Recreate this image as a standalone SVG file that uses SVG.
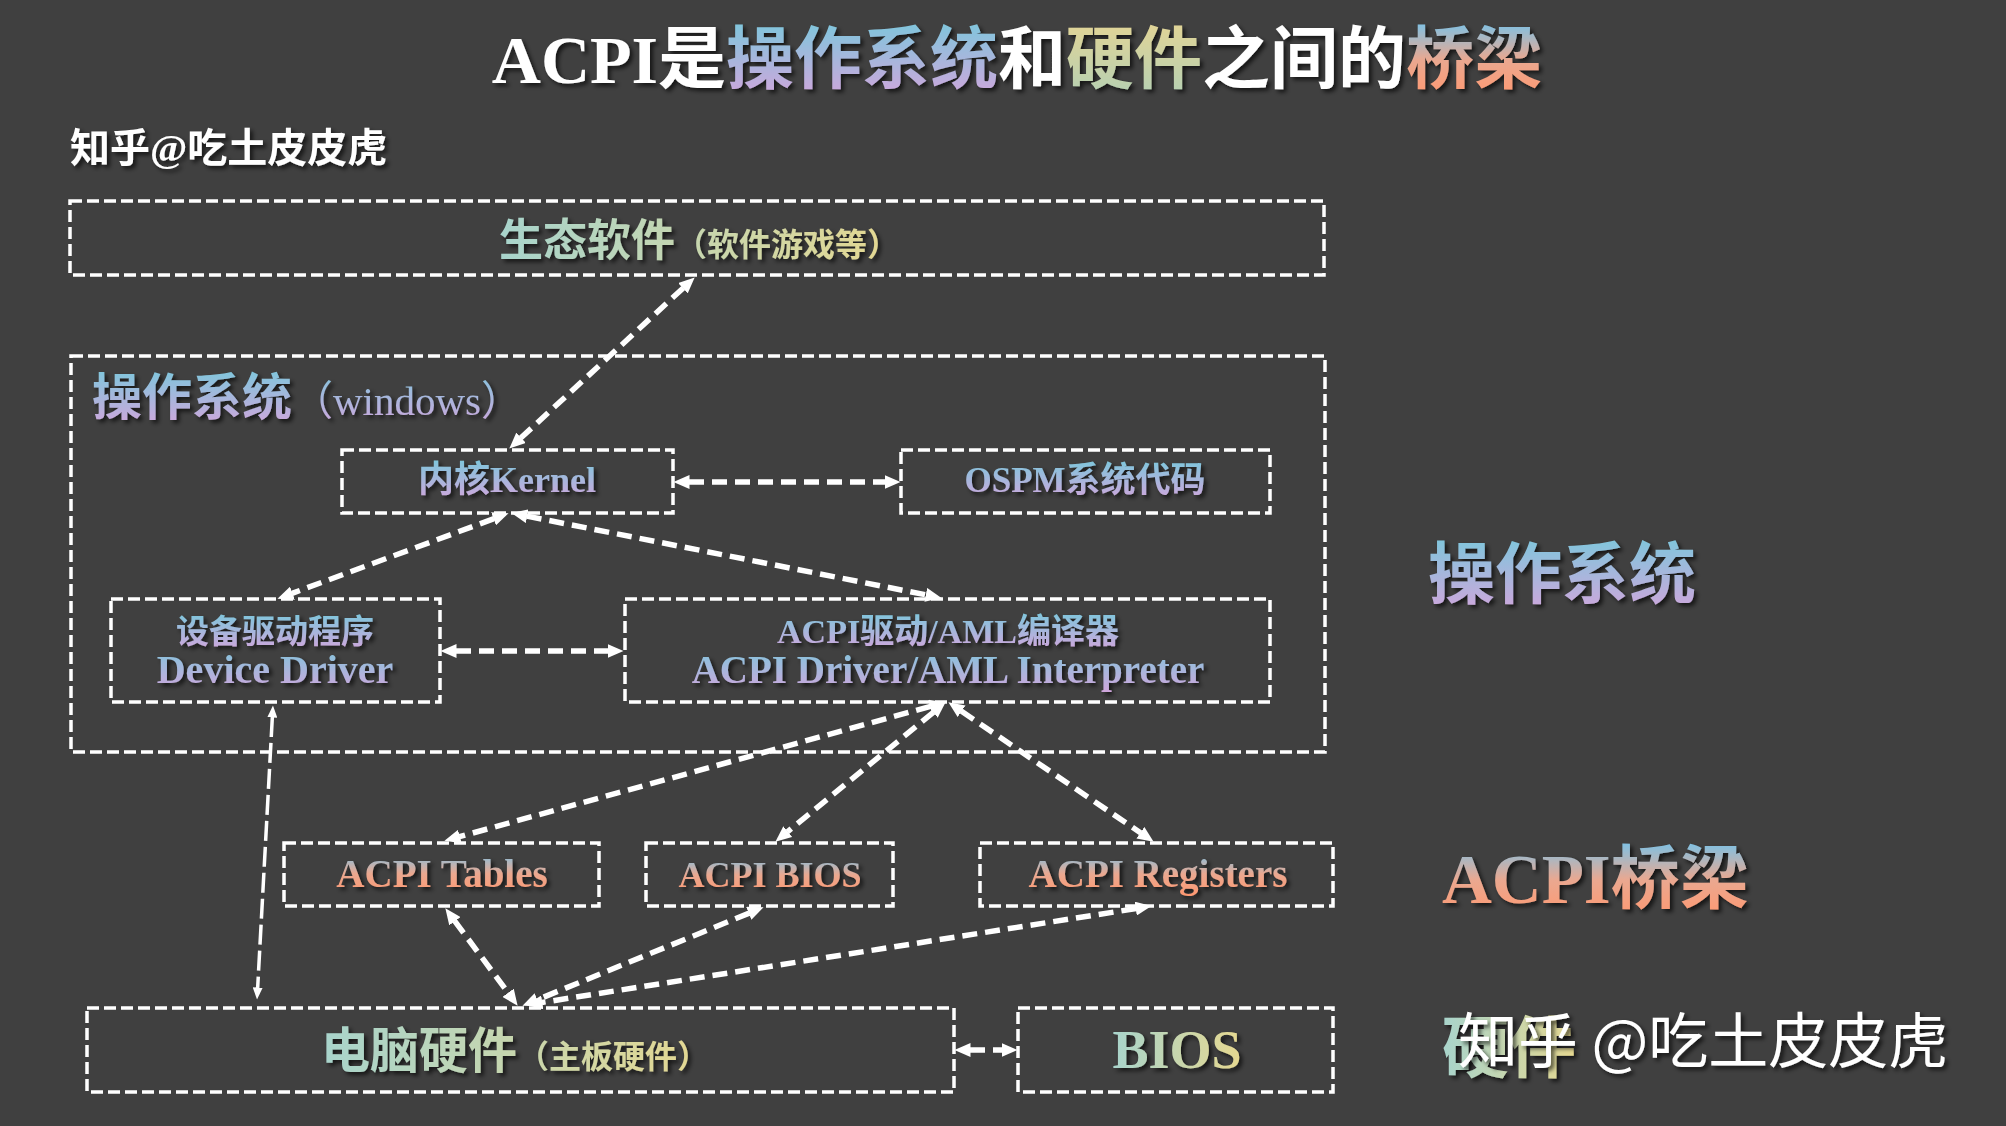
<svg xmlns="http://www.w3.org/2000/svg" width="2006" height="1126" viewBox="0 0 2006 1126">
<defs>
<style>
.t{font-family:"Liberation Serif","Noto Sans CJK SC",serif;font-weight:bold;filter:url(#sh)}
.box{fill:none;stroke:#fff;stroke-width:3.5;stroke-dasharray:12 5}
.con{fill:none;stroke:#fff;stroke-width:5.5;stroke-dasharray:15 8;marker-start:url(#ah);marker-end:url(#ah)}
.con2{fill:none;stroke:#fff;stroke-width:3.5;stroke-dasharray:20 6;marker-start:url(#ah2);marker-end:url(#ah2)}
</style>
<filter id="sh" x="-10%" y="-20%" width="120%" height="150%">
<feDropShadow dx="3" dy="3" stdDeviation="2" flood-color="#000" flood-opacity="0.65"/>
</filter>
<marker id="ah" viewBox="0 0 16 14" refX="0.5" refY="7" markerWidth="16" markerHeight="14" markerUnits="userSpaceOnUse" orient="auto-start-reverse">
<path d="M0,0 L16,7 L0,14 z" fill="#fff"/>
</marker>
<marker id="ah2" viewBox="0 0 12 10" refX="0.5" refY="5" markerWidth="12" markerHeight="10" markerUnits="userSpaceOnUse" orient="auto-start-reverse">
<path d="M0,0 L12,5 L0,10 z" fill="#fff"/>
</marker>
<linearGradient id="gOS" x1="0" y1="0" x2="0" y2="1">
<stop offset="0" stop-color="#7fc6dc"/><stop offset="1" stop-color="#d0a6dc"/>
</linearGradient>
<linearGradient id="gACPI" x1="0" y1="0" x2="0" y2="1">
<stop offset="0" stop-color="#7cc2e6"/><stop offset="0.5" stop-color="#eaa890"/><stop offset="1" stop-color="#ff9870"/>
</linearGradient>
<linearGradient id="gHW" x1="0" y1="0" x2="1" y2="0">
<stop offset="0" stop-color="#a8d4cc"/><stop offset="1" stop-color="#e6d890"/>
</linearGradient>
<linearGradient id="gHWv" x1="0" y1="0" x2="0" y2="1">
<stop offset="0" stop-color="#e2d496"/><stop offset="1" stop-color="#b4d0b4"/>
</linearGradient>
</defs>
<rect width="2006" height="1126" fill="#404040"/>

<g id="title">
<text class="t" x="1017" y="83" font-size="68" text-anchor="middle" fill="#fff">ACPI是<tspan fill="url(#gOS)">操作系统</tspan>和<tspan fill="url(#gHWv)">硬件</tspan>之间的<tspan fill="url(#gACPI)">桥梁</tspan></text>
</g>
<g id="author">
<text class="t" x="70" y="162" font-size="40" fill="#fff">知乎@吃土皮皮虎</text>
</g>

<g id="connectors">
<line class="con" x1="683.3" y1="287.9" x2="520.7" y2="438.1"/>
<line class="con" x1="689" y1="482" x2="885" y2="482"/>
<line class="con" x1="494" y1="518.6" x2="292" y2="593.4"/>
<line class="con" x1="526.7" y1="516.1" x2="926.3" y2="594.9"/>
<line class="con" x1="456" y1="651" x2="608" y2="651"/>
<line class="con" x1="930.6" y1="706.3" x2="459.4" y2="836.7"/>
<line class="con" x1="933.6" y1="712.1" x2="787.4" y2="831.9"/>
<line class="con" x1="961.2" y1="711" x2="1140.8" y2="833"/>
<line class="con2" x1="272.35" y1="717" x2="257.65" y2="988"/>
<line class="con" x1="454.6" y1="920.8" x2="508.4" y2="993.2"/>
<line class="con" x1="749.2" y1="913.1" x2="536.8" y2="999.9"/>
<line class="con" x1="1136.2" y1="908.5" x2="541.8" y2="1002.5"/>
<line class="con" x1="970" y1="1050" x2="1002" y2="1050"/>
</g>

<g id="eco">
<rect class="box" x="70" y="201" width="1254" height="74"/>
<text class="t" x="499" y="256" font-size="44" fill="url(#gHW)">生态软件<tspan font-size="32">（软件游戏等）</tspan></text>
</g>
<g id="os">
<rect class="box" x="71" y="356" width="1254" height="396"/>
<text class="t" x="92" y="415" font-size="50" fill="url(#gOS)">操作系统<tspan font-size="41" font-weight="normal">（windows）</tspan></text>
</g>
<g id="kernel">
<rect class="box" x="342" y="450" width="331" height="63"/>
<text class="t" x="507" y="492" font-size="36" text-anchor="middle" fill="url(#gOS)">内核Kernel</text>
</g>
<g id="ospm">
<rect class="box" x="901" y="450" width="369" height="63"/>
<text class="t" x="1085" y="492" font-size="35" text-anchor="middle" fill="url(#gOS)">OSPM系统代码</text>
</g>
<g id="devdrv">
<rect class="box" x="111" y="599" width="329" height="103"/>
<text class="t" x="275" y="643" font-size="33" text-anchor="middle" fill="url(#gOS)">设备驱动程序</text>
<text class="t" x="275" y="683" font-size="40" text-anchor="middle" fill="url(#gOS)">Device Driver</text>
</g>
<g id="acpidrv">
<rect class="box" x="625" y="599" width="645" height="103"/>
<text class="t" x="948" y="643" font-size="34" text-anchor="middle" fill="url(#gOS)">ACPI驱动/AML编译器</text>
<text class="t" x="948" y="683" font-size="39" text-anchor="middle" fill="url(#gOS)">ACPI Driver/AML Interpreter</text>
</g>
<g id="tables">
<rect class="box" x="284" y="843" width="315" height="63"/>
<text class="t" x="442" y="887" font-size="39" text-anchor="middle" fill="url(#gACPI)">ACPI Tables</text>
</g>
<g id="acpibios">
<rect class="box" x="646" y="843" width="247" height="63"/>
<text class="t" x="770" y="887" font-size="36" text-anchor="middle" fill="url(#gACPI)">ACPI BIOS</text>
</g>
<g id="registers">
<rect class="box" x="980" y="843" width="353" height="63"/>
<text class="t" x="1158" y="887" font-size="39" text-anchor="middle" fill="url(#gACPI)">ACPI Registers</text>
</g>
<g id="hardware">
<rect class="box" x="87" y="1008" width="867" height="84"/>
<text class="t" x="321" y="1068" font-size="49" fill="url(#gHW)">电脑硬件<tspan font-size="32">（主板硬件）</tspan></text>
</g>
<g id="bios">
<rect class="box" x="1018" y="1008" width="315" height="84"/>
<text class="t" x="1177" y="1068" font-size="54" text-anchor="middle" fill="url(#gHW)">BIOS</text>
</g>

<g id="side-labels">
<text class="t" x="1428" y="598" font-size="67" fill="url(#gOS)">操作系统</text>
<text class="t" x="1442" y="903" font-size="69" fill="url(#gACPI)">ACPI桥梁</text>
<text class="t" x="1442" y="1072" font-size="67" fill="url(#gHW)">硬件</text>
</g>
<g id="watermark">
<text x="1458" y="1063" font-size="60" fill="#fff" style="font-family:'Noto Sans CJK SC',sans-serif;filter:url(#sh)">知乎 @吃土皮皮虎</text>
</g>
</svg>
